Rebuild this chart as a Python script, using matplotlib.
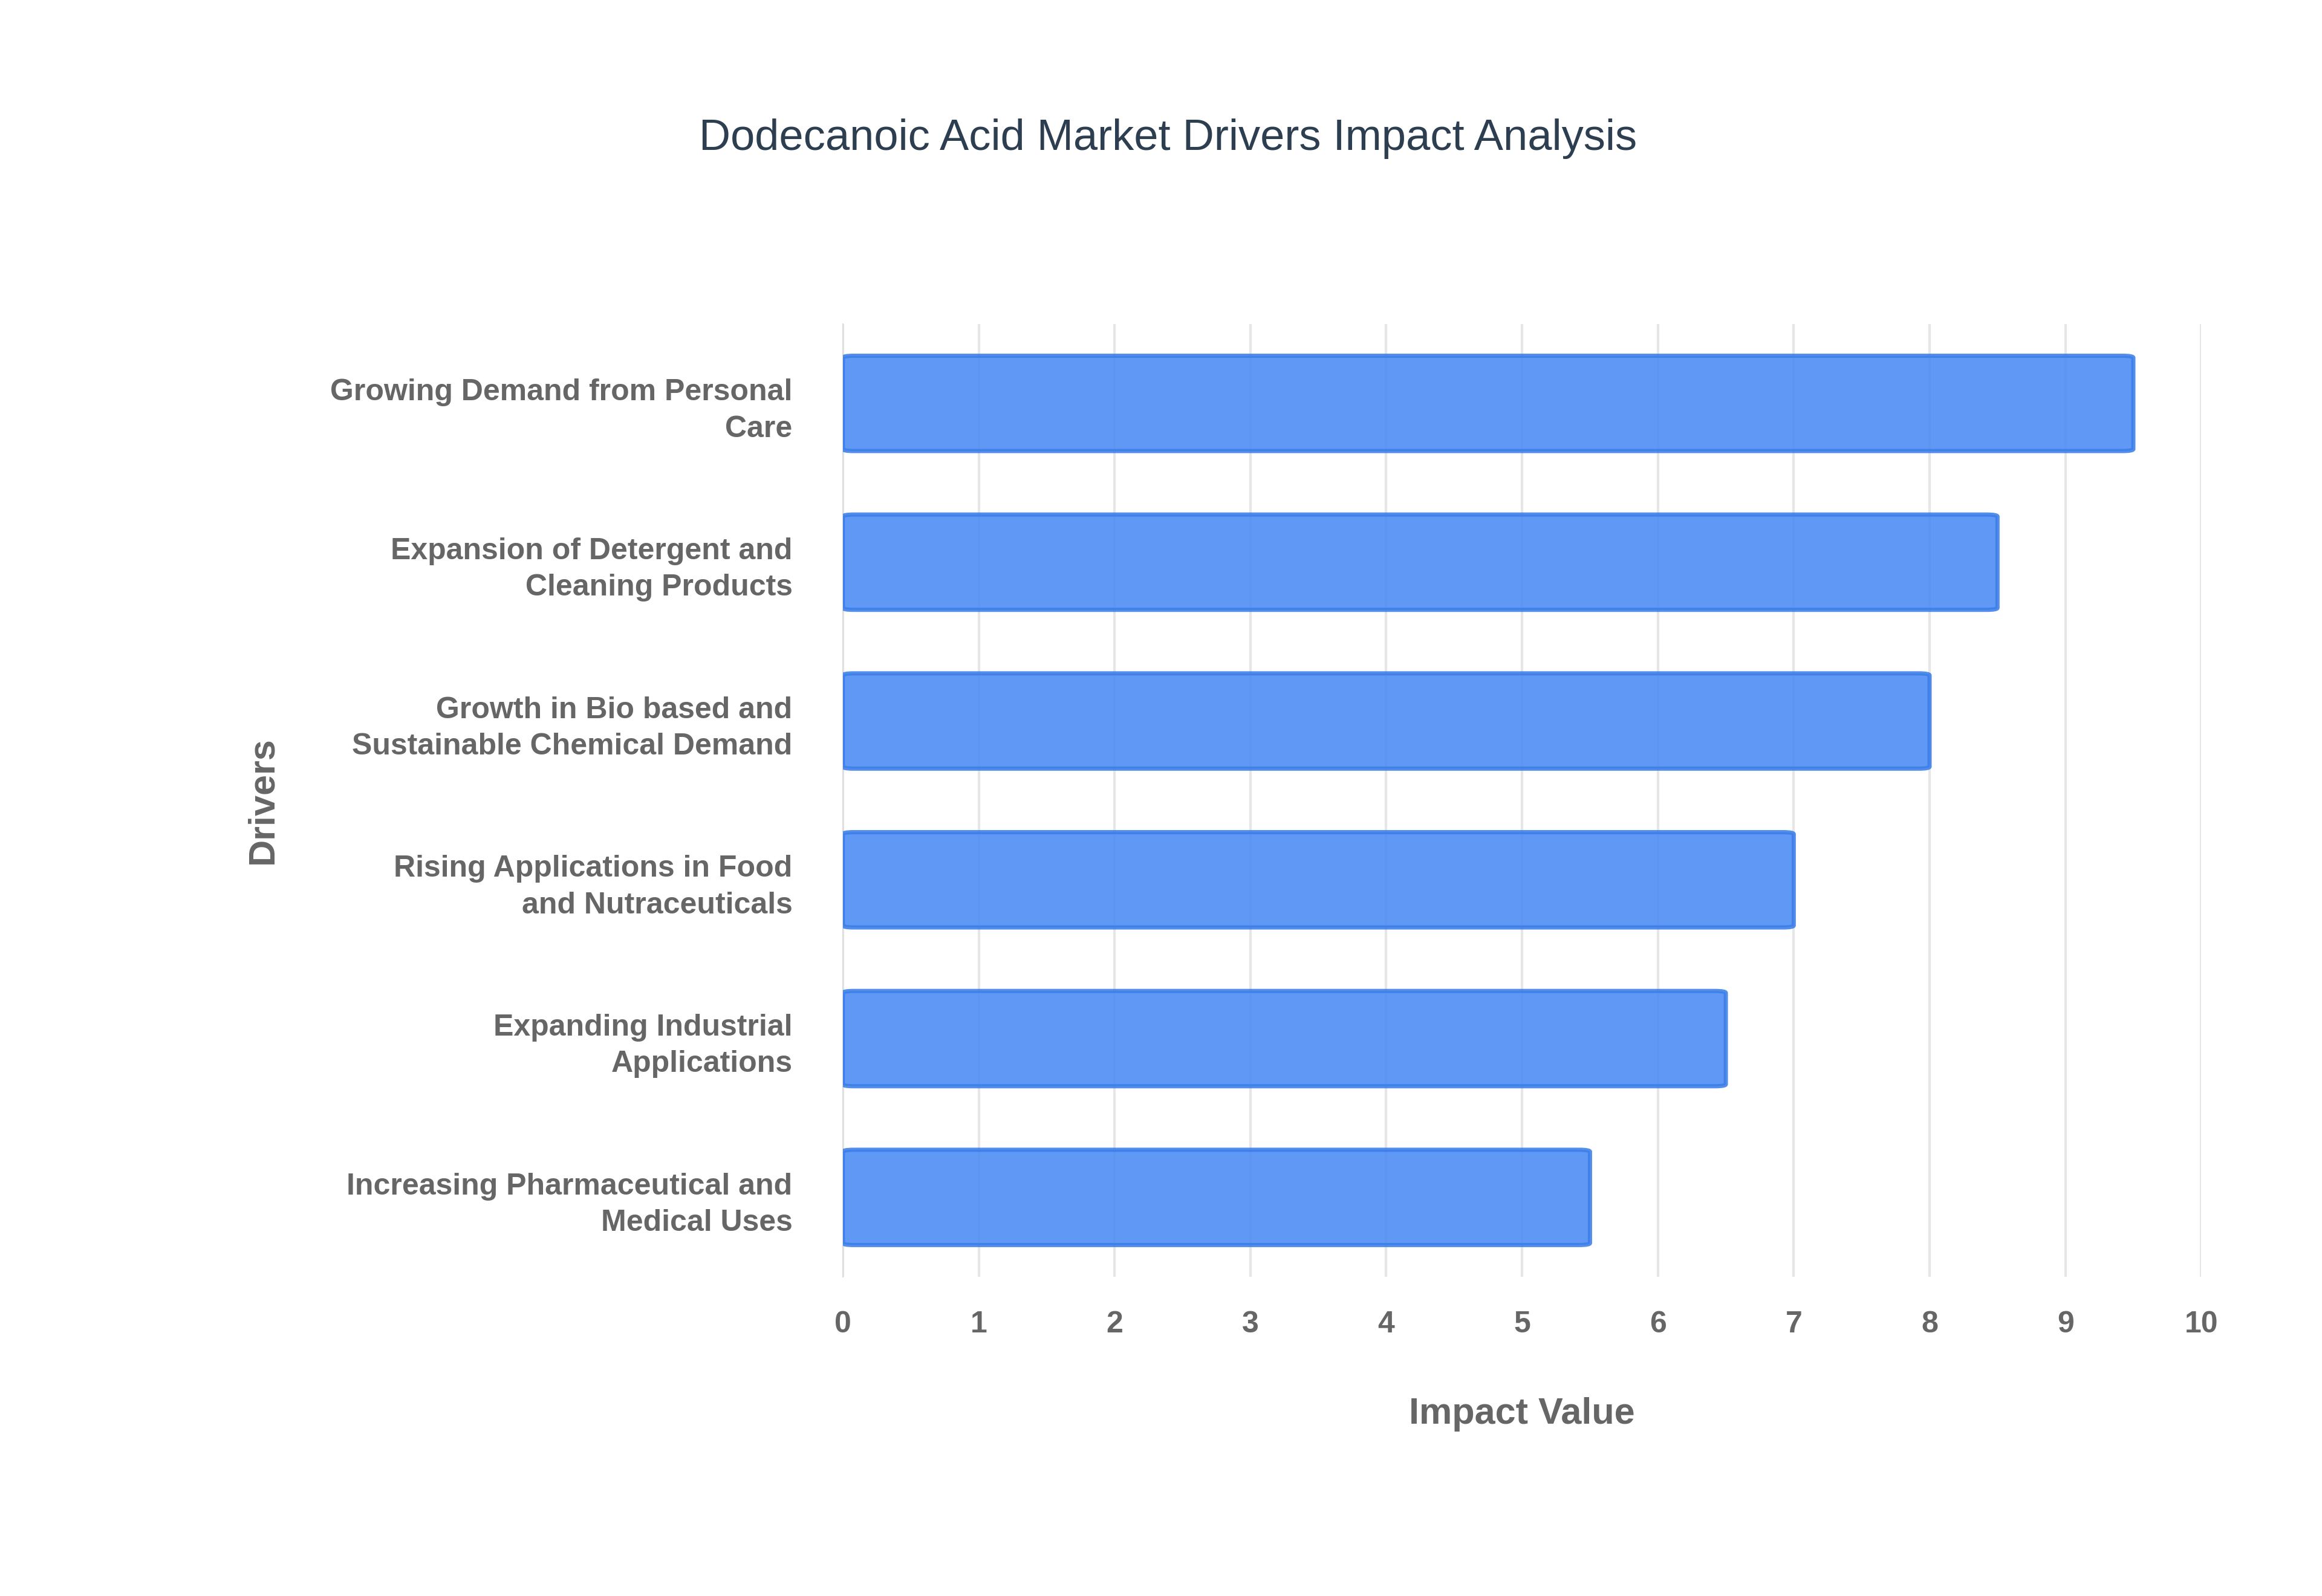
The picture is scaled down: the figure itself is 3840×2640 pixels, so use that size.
import matplotlib.pyplot as plt
from matplotlib.patches import FancyBboxPatch

drivers = [
    "Growing Demand from Personal\nCare",
    "Expansion of Detergent and\nCleaning Products",
    "Growth in Bio based and\nSustainable Chemical Demand",
    "Rising Applications in Food\nand Nutraceuticals",
    "Expanding Industrial\nApplications",
    "Increasing Pharmaceutical and\nMedical Uses",
]
impact = [9.5, 8.5, 8.0, 7.0, 6.5, 5.5]

plt.rcParams['font.family'] = ['Liberation Sans', 'DejaVu Sans']

fig = plt.figure(figsize=(19.2, 13.2), dpi=200)
ax = fig.add_axes([0.363, 0.2, 0.585, 0.597])

pos = list(range(len(drivers)))[::-1]
bh = 0.6
for y, v in zip(pos, impact):
    ax.add_patch(FancyBboxPatch((0, y - bh / 2), v, bh,
                                boxstyle="round,pad=0,rounding_size=0.08",
                                mutation_aspect=1 / 6,
                                facecolor='#4a8af4', alpha=0.88,
                                edgecolor='#3b7ee8', linewidth=2.5, zorder=3))

ax.set_xlim(0, 10)
ax.set_ylim(-0.5, len(drivers) - 0.5)
ax.set_xticks(range(11))
ax.set_yticks(pos)
ax.set_yticklabels(drivers)
ax.grid(axis='x', color='#e6e6e6', linewidth=1.5, zorder=0)
for s in ['top', 'right', 'bottom']:
    ax.spines[s].set_visible(False)
ax.spines['left'].set_color('#dddddd')
ax.tick_params(axis='both', length=0, colors='#666666', labelsize=18)
ax.tick_params(axis='x', pad=20)
ax.tick_params(axis='y', pad=30)
for t in ax.get_xticklabels() + ax.get_yticklabels():
    t.set_fontweight('bold')
    t.set_color('#666666')
for t in ax.get_yticklabels():
    t.set_linespacing(1.4)

ax.set_xlabel('Impact Value', fontsize=22, fontweight='bold', color='#666666', labelpad=35)
ax.set_ylabel('Drivers', fontsize=22, fontweight='bold', color='#666666', labelpad=30)
fig.text(0.503, 0.913, 'Dodecanoic Acid Market Drivers Impact Analysis',
         ha='center', va='center', fontsize=26, color='#2c3e50')

fig.savefig('out.png', dpi=200, facecolor='white')
